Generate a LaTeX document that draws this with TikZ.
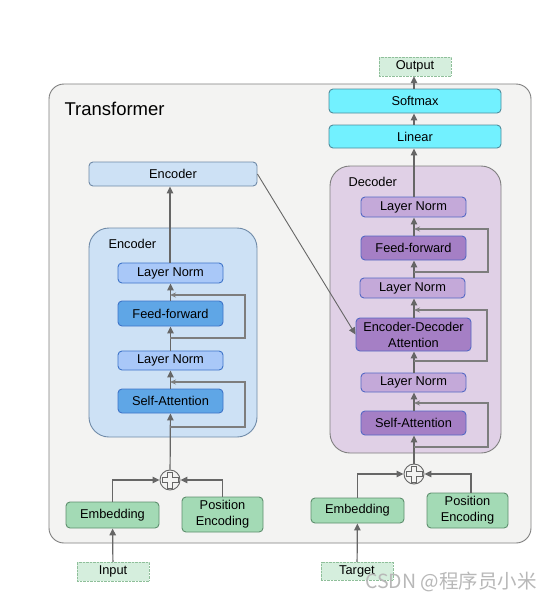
\documentclass[tikz,border=0pt]{standalone}
\usepackage{fontspec}
\setmainfont{Liberation Sans}
\newfontfamily\cjk{Noto Sans CJK SC}
\usetikzlibrary{arrows.meta,positioning,calc}
\definecolor{tfback}{HTML}{F3F3F2}
\definecolor{tfline}{HTML}{7F7F7F}
\definecolor{encpale}{HTML}{CDE1F5}
\definecolor{encrim}{HTML}{6F8AA8}
\definecolor{enclight}{HTML}{A9C8F8}
\definecolor{encdark}{HTML}{5FA6E6}
\definecolor{encedge}{HTML}{3F74C8}
\definecolor{decpale}{HTML}{E0D0E6}
\definecolor{declight}{HTML}{C4A9D9}
\definecolor{decdark}{HTML}{A57FC5}
\definecolor{decedge}{HTML}{5468C4}
\definecolor{headcyan}{HTML}{72F1FF}
\definecolor{headedge}{HTML}{4F8C9C}
\definecolor{embgreen}{HTML}{A3DAB5}
\definecolor{embedge}{HTML}{5E8F6E}
\definecolor{iogreen}{HTML}{D5EEDD}
\definecolor{ioedge}{HTML}{8FBF9A}
\definecolor{wire}{HTML}{666666}
\newcommand\blkfont{\fontsize{12.8}{16}\selectfont}
\tikzset{
  blk/.style={draw,rounded corners=4pt,align=center,font=\blkfont,inner sep=1pt,line width=0.9pt},
  eln/.style={blk,draw=encedge,fill=enclight,minimum width=105pt,minimum height=20pt},
  eop/.style={eln,fill=encdark,minimum height=25pt},
  dln/.style={blk,draw=decedge,fill=declight,minimum width=105pt,minimum height=20pt},
  dop/.style={dln,fill=decdark,minimum height=24pt},
  head/.style={blk,draw=headedge,fill=headcyan,minimum width=172pt,minimum height=23pt},
  emb/.style={blk,draw=embedge,fill=embgreen,minimum width=93pt,minimum height=26pt},
  posbox/.style={emb,minimum width=81pt,minimum height=35pt},
  io/.style={draw=ioedge,fill=iogreen,densely dotted,align=center,font=\blkfont,minimum width=72pt,minimum height=19pt,inner sep=1pt},
  stack/.style={draw=encrim,fill=encpale,rounded corners=20pt,line width=0.9pt},
  sum/.style={circle,draw=wire,fill=tfback,line width=0.9pt,minimum size=20pt,inner sep=0pt},
  arr/.style={-{Triangle[length=7pt,width=6.5pt]},line width=1.2pt,color=wire},
  res/.style={arr,-{Stealth[length=6pt,width=5pt]},line width=1.6pt,color=wire!85},
}
\newcommand\crossmark[1]{%
  \draw[wire,line width=0.9pt] ($(#1)+(-8,-2.5)$) -- ++(5.5,0) -- ++(0,-5.5) -- ++(5,0) -- ++(0,5.5)
    -- ++(5.5,0) -- ++(0,5) -- ++(-5.5,0) -- ++(0,5.5) -- ++(-5,0) -- ++(0,-5.5) -- ++(-5.5,0) -- cycle;}
\begin{document}
\begin{tikzpicture}[x=1pt,y=-1pt]
\useasboundingbox (0,0) rectangle (552,603);
\fill[white] (0,0) rectangle (552,603);
% outer frame
\node[draw=tfline,fill=tfback,rounded corners=15pt,line width=0.9pt,minimum width=482pt,minimum height=459pt] (tf) at (290,313.5) {};
\node[anchor=west,font=\fontsize{18.5}{20}\selectfont] (tflabel) at (61,109) {Transformer};
% encoder side
\node[stack,minimum width=168pt,minimum height=209pt] (ebox) at (173,332.5) {};
\node[anchor=west,font=\blkfont] (elabel) at (105,244) {Encoder};
\node[blk,draw=encrim,fill=encpale,minimum width=168pt,minimum height=24pt] (etop) at (173,174) {Encoder};
\node[eln] (eln2) at (170.5,273) {Layer Norm};
\node[eop] (eff) at (170.5,313.5) {Feed-forward};
\node[eln,minimum height=19pt] (eln1) at (170.5,360.5) {Layer Norm};
\node[eop,minimum height=24pt] (esa) at (170.5,401) {Self-Attention};
\node[sum] (esum) at (170,480) {};
\crossmark{esum}
\node[emb] (eemb) at (112.5,515) {Embedding};
\node[posbox] (epos) at (222.5,514.5) {Position\\Encoding};
\node[io] (ein) at (113,571.5) {Input};
% decoder side
\node[io] (dout) at (415,66.5) {Output};
\node[head,minimum height=24pt] (dsoft) at (415,101) {Softmax};
\node[head] (dlin) at (415,136.5) {Linear};
\node[stack,draw=tfline,fill=decpale,minimum width=171pt,minimum height=287pt] (dbox) at (415.5,309.5) {};
\node[anchor=west,font=\blkfont] (dlabel) at (345,182) {Decoder};
\node[dln] (dln3) at (413.5,207) {Layer Norm};
\node[dop] (dff) at (413.5,248) {Feed-forward};
\node[dln] (dln2) at (412.5,288) {Layer Norm};
\node[dop,minimum width=115pt,minimum height=33pt] (deda) at (413.5,334.5) {Encoder-Decoder\\Attention};
\node[dln,minimum height=19pt] (dln1) at (413.5,382.5) {Layer Norm};
\node[dop] (dsa) at (413.5,423) {Self-Attention};
\node[sum] (dsum) at (414,474) {};
\crossmark{dsum}
\node[emb,minimum height=25pt] (demb) at (357.5,510.5) {Embedding};
\node[posbox] (dpos) at (467.5,510.5) {Position\\Encoding};
\node[io,minimum height=18pt] (dtgt) at (357,571) {Target};
% encoder flow
\draw[arr] (ein) -- (eemb);
\draw[arr] (eemb.north) |- (esum.west);
\draw[arr] (epos.north) |- (esum.east);
\draw[arr] (esum) -- (esa);
\draw[arr] (esa) -- (eln1);
\draw[arr] (eln1) -- (eff);
\draw[arr] (eff) -- (eln2);
\draw[arr] (eln2.north -| esum) -- (etop.south -| esum);
\coordinate (er1) at (170,427); \coordinate (er1e) at (170,382);
\coordinate (er2) at (170,338); \coordinate (er2e) at (170,295);
\draw[res] (er1) -- ++(75,0) |- (er1e);
\draw[res] (er2) -- ++(75,0) |- (er2e);
% decoder flow
\draw[arr] (dtgt) -- (demb);
\draw[arr] (demb.north) |- (dsum.west);
\draw[arr] ([xshift=3.5pt]dpos.north) |- (dsum.east);
\draw[arr] (dsum) -- (dsa.south -| dsum);
\draw[arr] (dsa.north -| dsum) -- (dln1.south -| dsum);
\draw[arr] (dln1.north -| dsum) -- (deda.south -| dsum);
\draw[arr] (deda.north -| dsum) -- (dln2.south -| dsum);
\draw[arr] (dln2.north -| dsum) -- (dff.south -| dsum);
\draw[arr] (dff.north -| dsum) -- (dln3.south -| dsum);
\draw[arr] (dln3.north -| dsum) -- (dlin.south -| dsum);
\draw[arr] (dlin.north -| dsum) -- (dsoft.south -| dsum);
\draw[arr] (dsoft.north -| dsum) -- (dout.south -| dsum);
\coordinate (dr1) at (414,447); \coordinate (dr1e) at (414,403);
\coordinate (dr2) at (414,361); \coordinate (dr2e) at (414,310);
\coordinate (dr3) at (414,272); \coordinate (dr3e) at (414,229);
\draw[res] (dr1) -- ++(74,0) |- (dr1e);
\draw[res] (dr2) -- ++(73,0) |- (dr2e);
\draw[res] (dr3) -- ++(74,0) |- (dr3e);
% encoder output into decoder
\draw[arr,line width=0.9pt] (etop.east) -- (deda.west);
% watermark
\node[font=\cjk\fontsize{19.5}{22}\selectfont,text=black!28] (mark) at (451,582) {CSDN @程序员小米};
\end{tikzpicture}
\end{document}
